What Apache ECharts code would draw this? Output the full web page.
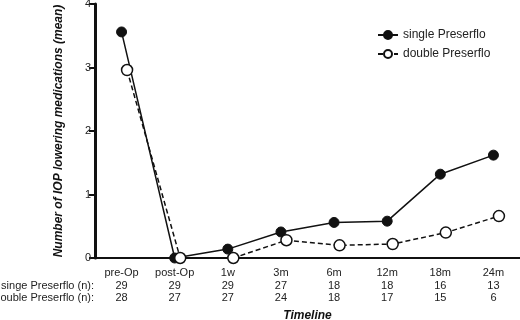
<!DOCTYPE html>
<html>
<head>
<meta charset="UTF-8">
<script src="https://cdn.jsdelivr.net/npm/echarts@6/dist/echarts.min.js"></script>
<style>
    body { margin: 0; background: #fff; }
    #chart { width: 520px; height: 320px; }
</style>
</head>
<body>
<div id="chart"></div>
<script>
    // timeline points
    const categories = ['pre-Op', 'post-Op', '1w', '3m', '6m', '12m', '18m', '24m'];
    // mean number of IOP lowering medications
    const singleMean = [3.56, 0, 0.14, 0.41, 0.56, 0.58, 1.32, 1.62];
    const doubleMean = [2.96, 0, 0, 0.28, 0.20, 0.22, 0.40, 0.66];
    // n per time point
    const singleN = [29, 29, 29, 27, 18, 18, 16, 13];
    const doubleN = [28, 27, 27, 24, 18, 17, 15, 6];

    const font = 'Arial, "Liberation Sans", sans-serif';
    const chart = echarts.init(document.getElementById('chart'));

    chart.setOption({
        animation: false,
        textStyle: { fontFamily: font },
        grid: [
            { left: 95, right: 0, top: 4, bottom: 62, outerBoundsMode: 'none' },
            // same plot shifted a few px right, so the double series is dodged
            { left: 100.5, right: -5.5, top: 4, bottom: 62, outerBoundsMode: 'none' }
        ],
        legend: {
            orient: 'vertical',
            left: 372,
            top: 24,
            itemWidth: 20,
            itemHeight: 10,
            itemGap: 7,
            textStyle: { fontSize: 12, color: '#222', fontFamily: font },
            data: ['single Preserflo', 'double Preserflo']
        },
        xAxis: [{
            type: 'category',
            gridIndex: 0,
            data: categories,
            boundaryGap: true,
            axisLine: { lineStyle: { color: '#111', width: 2 } },
            axisTick: { alignWithLabel: true, length: 6, lineStyle: { color: '#111', width: 2 } },
            axisLabel: {
                margin: 9,
                fontSize: 11,
                lineHeight: 12.5,
                color: '#222',
                formatter: (v, i) => v + '\n' + singleN[i] + '\n' + doubleN[i]
            },
            name: 'Timeline',
            nameLocation: 'middle',
            nameGap: 52,
            nameTextStyle: { fontSize: 12, fontWeight: 'bold', fontStyle: 'italic', color: '#111' }
        }, {
            type: 'category',
            gridIndex: 1,
            data: categories,
            boundaryGap: true,
            show: false
        }],
        yAxis: [{
            type: 'value',
            gridIndex: 0,
            min: 0,
            max: 4,
            interval: 1,
            splitLine: { show: false },
            axisLine: { show: true, onZero: false, lineStyle: { color: '#111', width: 3 } },
            axisTick: { show: true, length: 6, lineStyle: { color: '#111', width: 2 } },
            axisLabel: { fontSize: 11, color: '#222', margin: 4 },
            name: 'Number of IOP lowering medications (mean)',
            nameLocation: 'middle',
            nameGap: 30,
            nameTextStyle: { fontSize: 12, fontWeight: 'bold', fontStyle: 'italic', color: '#111' }
        }, {
            type: 'value',
            gridIndex: 1,
            min: 0,
            max: 4,
            interval: 1,
            show: false
        }],
        graphic: [
            {
                type: 'text', right: 426, top: 280,
                style: { text: 'singe Preserflo (n):', fontSize: 11, fill: '#222', fontFamily: font, textAlign: 'right' }
            },
            {
                type: 'text', right: 426, top: 292,
                style: { text: 'double Preserflo (n):', fontSize: 11, fill: '#222', fontFamily: font, textAlign: 'right' }
            }
        ],
        series: [{
            name: 'single Preserflo',
            type: 'line',
            data: singleMean,
            symbol: 'circle',
            symbolSize: 10,
            itemStyle: { color: '#111', borderColor: '#111', borderWidth: 1 },
            lineStyle: { color: '#111', width: 1.5 }
        }, {
            name: 'double Preserflo',
            type: 'line',
            xAxisIndex: 1,
            yAxisIndex: 1,
            data: doubleMean,
            symbol: 'circle',
            symbolSize: 11,
            itemStyle: { color: '#fff', borderColor: '#111', borderWidth: 1.5 },
            lineStyle: { color: '#111', width: 1.5, type: [5, 3] }
        }]
    });
</script>
</body>
</html>
